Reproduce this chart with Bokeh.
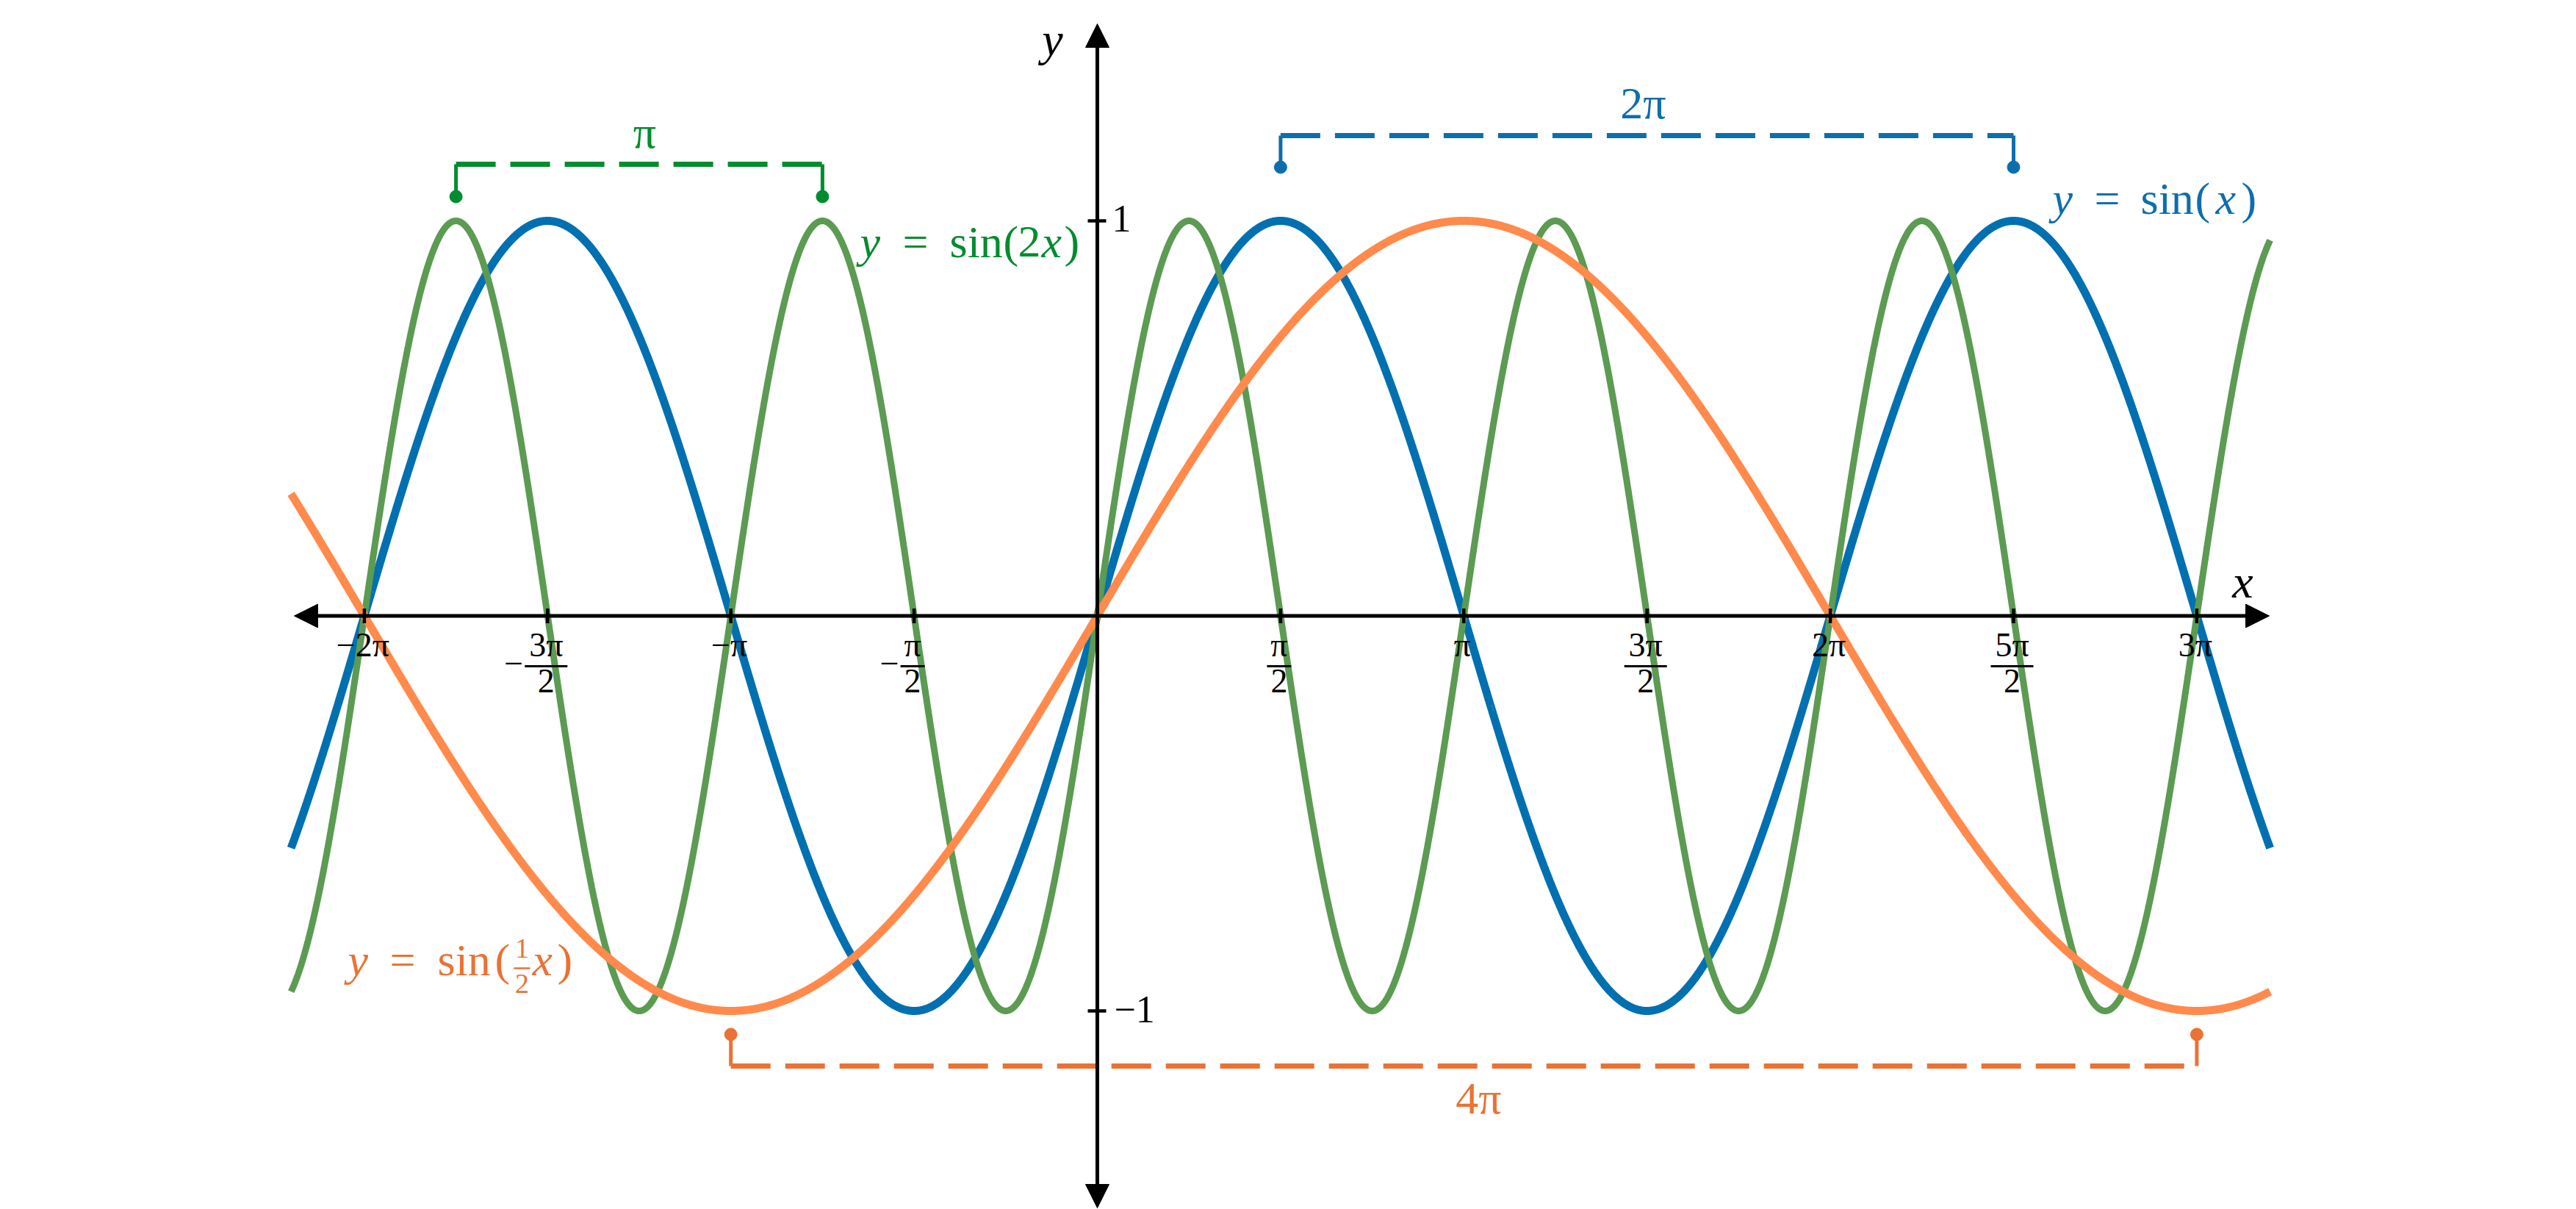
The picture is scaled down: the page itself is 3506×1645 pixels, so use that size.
import numpy as np
from bokeh.plotting import figure
from bokeh.models import Arrow, NormalHead
from bokeh.embed import file_html
from bokeh.resources import INLINE
from bokeh.core.properties import value

PI = np.pi

# ---------------- data ----------------
curve_names = ["y = sin(x)", "y = sin(2x)", "y = sin(x/2)"]
frequencies = [1.0, 2.0, 0.5]
x_domain = [-2.2 * PI, 3.2 * PI]
x_tick_values = [-2 * PI, -1.5 * PI, -PI, -0.5 * PI, 0.5 * PI, PI, 1.5 * PI, 2 * PI, 2.5 * PI, 3 * PI]
x_tick_labels = ["−2π", "−3π/2", "−π", "−π/2", "π/2", "π", "3π/2", "2π", "5π/2", "3π"]
y_tick_values = [1, -1]
y_tick_labels = ["1", "−1"]
period_starts = [0.5 * PI, -1.75 * PI, -PI]
period_lengths = [2 * PI, PI, 4 * PI]
period_labels = ["2π", "π", "4π"]

# ---------------- style ----------------
curve_colors = ["#0070B0", "#5B9B52", "#FF8A4C"]
text_colors = ["#0E6EAC", "#008C2F", "#EA7234"]
curve_widths = [11, 9, 11]
FONT = value("Liberation Serif")
BASE_K = 0.38                      # baseline correction (fraction of font size)

W, H = 3506, 1645
X0F, Y0F = 1493.0, 837.5          # pixel position of the origin
SX = 498.8 / PI                   # px per x unit
SY = 537.5                        # px per y unit


def px_x(page_x):
    return (page_x - X0F) / SX


def px_y(page_y):
    return (Y0F - page_y) / SY


p = figure(width=W, height=H, x_range=(-X0F / SX, (W - X0F) / SX),
           y_range=(-(H - Y0F) / SY, Y0F / SY),
           x_axis_type=None, y_axis_type=None, toolbar_location=None,
           output_backend="svg", min_border=0)
p.grid.visible = False
p.outline_line_color = None
p.background_fill_color = "white"
p.border_fill_color = "white"

# ---------------- curves ----------------
xs = np.linspace(x_domain[0], x_domain[1], 3000)
for i in [0, 1, 2]:
    p.line(xs, np.sin(frequencies[i] * xs), line_color=curve_colors[i],
           line_width=curve_widths[i])

# ---------------- axes ----------------
def head():
    return NormalHead(size=32, fill_color="black", line_color="black", line_width=1)


p.add_layout(Arrow(start=head(), end=head(),
                   x_start=px_x(400), x_end=px_x(3088), y_start=0, y_end=0,
                   line_width=5, line_color="black"))
p.add_layout(Arrow(start=head(), end=head(),
                   x_start=0, x_end=0, y_start=px_y(1643), y_end=px_y(32),
                   line_width=5, line_color="black"))

# ticks
tick_h = 10 / SY
p.segment(x0=x_tick_values, x1=x_tick_values, y0=[-tick_h] * len(x_tick_values),
          y1=[tick_h] * len(x_tick_values), line_color="black", line_width=4.5)
p.segment(x0=[-13 / SX] * 2, x1=[12 / SX] * 2, y0=y_tick_values, y1=y_tick_values,
          line_color="black", line_width=4.5)


def put(txt, x, y_page, size, color="black", italic=False, align="left"):
    p.text(x=[x], y=[px_y(y_page - BASE_K * size)], text=[txt], text_font=FONT,
           text_font_size=value(f"{size}px"), text_color=color,
           text_font_style="italic" if italic else "normal",
           text_align=align, text_baseline="alphabetic")


# x tick labels
TS = 46
for xv, lab in zip(x_tick_values, x_tick_labels):
    cx = xv - 2 / SX
    neg = lab.startswith("−")
    body = lab[1:] if neg else lab
    if "/" in body:
        num, den = body.split("/")
        bw = 58 if len(num) > 1 else 33
        put(num, cx, 894, TS, align="center")
        put(den, cx, 943, TS, align="center")
        p.segment(x0=[cx - bw / 2 / SX], x1=[cx + bw / 2 / SX], y0=[px_y(906)], y1=[px_y(906)],
                  line_color="black", line_width=3)
        if neg:
            put("−", cx - (bw / 2 + 2) / SX, 919, TS, align="right")
    else:
        put(lab, cx, 894, TS, align="center")

# y tick labels
put(y_tick_labels[0], px_x(1513), 317, 52)
put(y_tick_labels[1], px_x(1516), 1393, 52)

# axis names
put("y", px_x(1432), 77, 64, italic=True, align="center")
put("x", px_x(3052), 815, 64, italic=True, align="center")

# ---------------- period brackets ----------------
bracket_y = [px_y(184), px_y(223), px_y(1450)]
dot_y = [px_y(227), px_y(267), px_y(1407)]
label_pos = [(2236, 163), (877, 203), (2012, 1517)]
for i in range(3):
    a = period_starts[i]
    b = a + period_lengths[i]
    c = text_colors[i]
    p.line([a, b], [bracket_y[i], bracket_y[i]], line_color=c, line_width=7, line_dash="54 20")
    p.segment(x0=[a, b], x1=[a, b], y0=[dot_y[i]] * 2, y1=[bracket_y[i]] * 2,
              line_color=c, line_width=5)
    p.scatter([a, b], [dot_y[i]] * 2, size=17, fill_color=c, line_color=c)
    lx, ly = label_pos[i]
    put(period_labels[i], px_x(lx), ly, 62, color=c, align="center")

# ---------------- function labels ----------------
fs = 62
blue_parts = [("y", 2793, True), ("=", 2850, False), ("sin", 2913, False), ("(", 2987, False),
              ("x", 3015, True), (")", 3050, False)]
for t, xp, it in blue_parts:
    put(t, px_x(xp), 293, fs, color=text_colors[0], italic=it)

green_parts = [("y", 1170, True), ("=", 1228, False), ("sin", 1292, False), ("(", 1365, False),
               ("2", 1385, False), ("x", 1417, True), (")", 1448, False)]
for t, xp, it in green_parts:
    put(t, px_x(xp), 352, fs, color=text_colors[1], italic=it)

orange_parts = [("y", 473, True), ("=", 530, False), ("sin", 595, False), ("(", 673, False),
                ("x", 724, True), (")", 758, False)]
for t, xp, it in orange_parts:
    put(t, px_x(xp), 1329, fs, color=text_colors[2], italic=it)
put("1", px_x(710), 1304, 38, color=text_colors[2], align="center")
put("2", px_x(710), 1352, 38, color=text_colors[2], align="center")
p.segment(x0=[px_x(699)], x1=[px_x(721)], y0=[px_y(1317)], y1=[px_y(1317)],
          line_color=text_colors[2], line_width=2.5)

open("out.html", "w").write(file_html(p, INLINE))
